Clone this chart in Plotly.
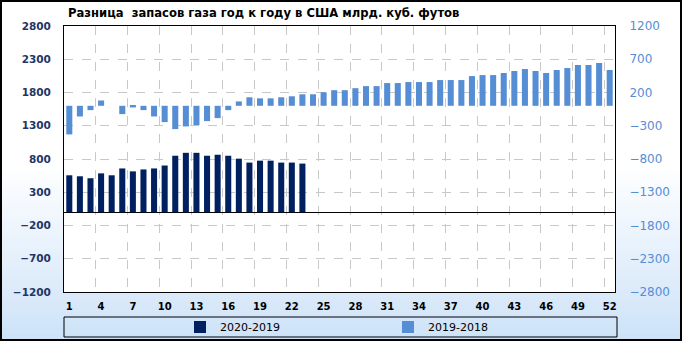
import plotly.graph_objects as go

weeks = list(range(1, 53))
tick_weeks = list(range(1, 53, 3))
tick_labels = [str(w) for w in tick_weeks]

diff_2020_2019 = [555, 540, 511, 584, 555, 658, 614, 643, 658, 702,
                  849, 893, 893, 849, 864, 849, 805, 746, 775, 775,
                  746, 746, 731]
diff_2019_2018 = [-430, -160, -65, 80, 0, -125, -25, -65, -160, -245,
                  -350, -310, -290, -230, -185, -65, 66, 128, 112, 112,
                  128, 143, 173, 173, 204, 235, 235, 265, 296, 296,
                  342, 342, 357, 357, 357, 387, 387, 387, 447, 462,
                  462, 493, 523, 553, 523, 493, 538, 568, 614, 614,
                  644, 538]

NAVY = "#002060"
LIGHT = "#558ED5"
W, H = 682, 341
L, R, T, B = 64, 615, 26, 292
PW, PH = R - L, B - T


def px_x(p):
    return (p - L) / PW


def px_y(p):
    return (B - p) / PH


fig = go.Figure()
fig.add_trace(go.Bar(x=weeks[:len(diff_2020_2019)], y=diff_2020_2019, name="2020-2019",
                     marker=dict(color=NAVY, line=dict(width=0)), width=0.57, yaxis="y"))
fig.add_trace(go.Bar(x=weeks, y=diff_2019_2018, name="2019-2018",
                     marker=dict(color=LIGHT, line=dict(width=0)), width=0.57, yaxis="y2"))

shapes = []
# background gradient bands (white -> light blue)
g_start = 165
n = 40
top_c = (255, 255, 255)
bot_c = (205, 226, 248)
for i in range(n):
    y0 = g_start + (H - g_start) * i / n
    y1 = g_start + (H - g_start) * (i + 1) / n
    t = (i + 0.5) / n
    c = tuple(int(round(top_c[k] + (bot_c[k] - top_c[k]) * t)) for k in range(3))
    shapes.append(dict(type="rect", xref="paper", yref="paper", layer="below",
                       x0=px_x(0), x1=px_x(W), y0=px_y(y1 + 0.5), y1=px_y(y0),
                       fillcolor="rgb(%d,%d,%d)" % c, line=dict(width=0)))
# white plot area
shapes.append(dict(type="rect", xref="paper", yref="paper", layer="below",
                   x0=0, x1=1, y0=0, y1=1, fillcolor="white", line=dict(width=0)))
# legend box
shapes.append(dict(type="rect", xref="paper", yref="paper", layer="below",
                   x0=px_x(64), x1=px_x(617), y0=px_y(337), y1=px_y(317),
                   fillcolor="rgba(0,0,0,0)", line=dict(color="black", width=1)))
# outer border
shapes.append(dict(type="rect", xref="paper", yref="paper", layer="above",
                   x0=px_x(1), x1=px_x(W - 1), y0=px_y(H - 1), y1=px_y(1),
                   fillcolor="rgba(0,0,0,0)", line=dict(color="black", width=2)))

grid = "#C8C8C8"
fig.update_layout(
    width=W, height=H,
    margin=dict(l=L, r=W - R, t=T, b=H - B, pad=0, autoexpand=False),
    paper_bgcolor="white", plot_bgcolor="white",
    barmode="overlay",
    shapes=shapes,
    showlegend=True,
    title=dict(text="Разница  запасов газа год к году в США млрд. куб. футов",
               x=68 / W, xref="container", xanchor="left",
               y=1 - 13 / H, yref="container", yanchor="middle",
               font=dict(family="DejaVu Sans", size=11.6, color="black", weight="bold")),
    xaxis=dict(range=[0.5, 52.5], tickmode="array", tickvals=tick_weeks, ticktext=tick_labels,
               showgrid=False, zeroline=False, showline=True, linecolor="black", linewidth=1,
               mirror=True, ticks="outside", ticklen=5, tickcolor="rgba(0,0,0,0)",
               tickfont=dict(family="DejaVu Sans", size=10, color="black", weight="bold"),
               minor=dict(tick0=0.5, dtick=3, showgrid=True, gridcolor=grid,
                          griddash="dash", gridwidth=1, ticks="")),
    yaxis=dict(range=[-1200, 2800], tick0=-1200, dtick=500, showgrid=True,
               gridcolor=grid, griddash="dash", gridwidth=1,
               zeroline=True, zerolinecolor="black", zerolinewidth=1,
               showline=True, linecolor="black", linewidth=1, mirror=True,
               ticks="outside", ticklen=10, tickcolor="rgba(0,0,0,0)",
               tickfont=dict(family="DejaVu Sans", size=10.5, color="#1F3566", weight="bold")),
    yaxis2=dict(range=[-2800, 1200], tick0=-2800, dtick=500, overlaying="y", side="right",
                showgrid=False, zeroline=False, showline=False,
                ticks="outside", ticklen=11, tickcolor="rgba(0,0,0,0)",
                tickfont=dict(family="DejaVu Sans", size=12, color=LIGHT)),
    legend=dict(orientation="h", xref="container", yref="container",
                x=180 / W, xanchor="left", y=1 - 327 / H, yanchor="middle",
                bgcolor="rgba(0,0,0,0)", borderwidth=0, entrywidth=163, entrywidthmode="pixels",
                itemwidth=30, font=dict(family="DejaVu Sans", size=11, color="black"),
                traceorder="normal"),
)

fig.write_html("out.html")
